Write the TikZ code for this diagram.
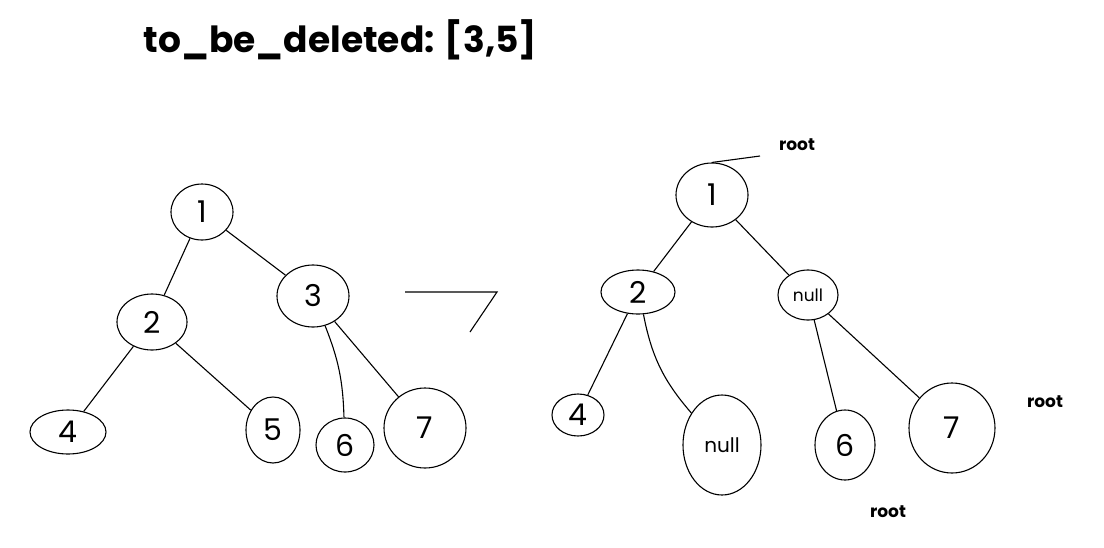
\documentclass[tikz,border=0pt]{standalone}
\usepackage{fontspec}
\setmainfont{Poppins}
\usetikzlibrary{shapes.geometric}
\begin{document}
\begin{tikzpicture}[x=1pt,y=-1pt,line width=1.1pt,
  nd/.style={draw,ellipse,inner sep=0pt,font=\fontsize{30}{32}\selectfont\mdseries},
  lab/.style={font=\bfseries\fontsize{17}{19}\selectfont}]
\useasboundingbox (0,0) rectangle (1104,547);
\node[font=\bfseries\fontsize{36}{40}\selectfont,anchor=west,inner sep=0pt] (title) at (143,40) {to\_be\_deleted: [3,5]};
% left tree
\node[nd,minimum width=62,minimum height=56] (a1) at (202,212) {1};
\node[nd,minimum width=70,minimum height=56] (a2) at (152,322) {2};
\node[nd,minimum width=72,minimum height=62] (a3) at (313,296) {3};
\node[nd,minimum width=76,minimum height=44] (a4) at (68,432) {4};
\node[nd,minimum width=54,minimum height=66] (a5) at (273,430) {5};
\node[nd,minimum width=58,minimum height=54] (a6) at (345,445) {6};
\node[nd,minimum width=82,minimum height=80] (a7) at (425,428) {7};
\draw (a1) -- (a2);
\draw (a1) -- (a3);
\draw (a2) -- (a4);
\draw (a2) -- (a5);
\draw (a3) to[bend left=10] (a6);
\draw (a3) -- (a7);
% arrow
\coordinate (s) at (405,292);
\coordinate (e) at (497,292);
\draw (s) -- (e) -- (470,332);
% right tree
\node[nd,minimum width=72,minimum height=64] (b1) at (712,195) {1};
\node[nd,minimum width=74,minimum height=44] (b2) at (638,292) {2};
\node[nd,minimum width=60,minimum height=50,font=\fontsize{17}{19}\selectfont] (b3) at (808,295) {null};
\node[nd,minimum width=52,minimum height=42] (b4) at (578,415) {4};
\node[nd,minimum width=78,minimum height=100,font=\fontsize{20}{22}\selectfont] (b5) at (722,445) {null};
\node[nd,minimum width=60,minimum height=70] (b6) at (845,445) {6};
\node[nd,minimum width=86,minimum height=90] (b7) at (952,428) {7};
\draw (b1) -- (b2);
\draw (b1) -- (b3);
\draw (b2) -- (b4);
\draw (b2) to[bend right=15] (b5);
\draw (b3) -- (b6);
\draw (b3) -- (b7);
\node[lab] (r1) at (797,145) {root};
\node[lab] (r2) at (1045,402) {root};
\node[lab] (r3) at (888,512) {root};
\coordinate (rt) at (760,156);
\draw (b1.north) -- (rt);
\end{tikzpicture}
\end{document}
